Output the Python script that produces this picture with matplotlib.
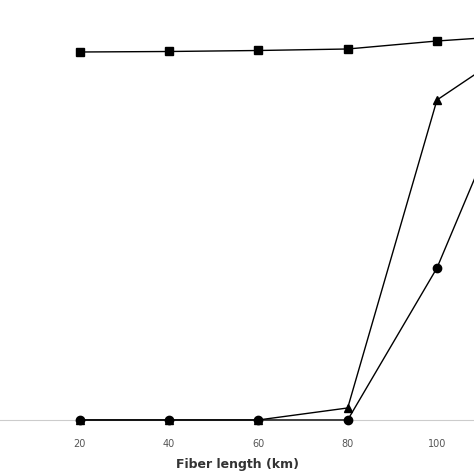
import matplotlib
matplotlib.use("Agg")
import matplotlib.pyplot as plt

fiber_km = [20, 40, 60, 80, 100, 120]
series_square = [368, 368.5, 369.5, 371, 379, 385]
series_triangle = [0, 0, 0, 12, 320, 380]
series_circle = [0, 0, 0, 0, 152, 364]
xticks = [20, 40, 60, 80, 100]

fig = plt.figure(figsize=(4.74, 4.74), dpi=100)
ax = fig.add_axes([0, 0.114, 1, 0.886])
for ys, m in [(series_square, 's'), (series_triangle, '^'), (series_circle, 'o')]:
    ax.plot(fiber_km, ys, color='black', marker=m, markersize=6, linewidth=1, clip_on=False, zorder=3)
ax.set_xlim(2.1, 108.3)
ax.set_ylim(0, 420)
ax.set_xticks(xticks)
ax.tick_params(axis='x', length=0, labelsize=7, labelcolor='#555555', pad=14)
ax.set_yticks([])
for s in ['left', 'right', 'top']:
    ax.spines[s].set_visible(False)
ax.spines['bottom'].set_color('#cccccc')
ax.set_xlabel('Fiber length (km)', fontsize=9, fontweight='bold', color='#333333', labelpad=6)
fig.savefig('out.png', dpi=100)
